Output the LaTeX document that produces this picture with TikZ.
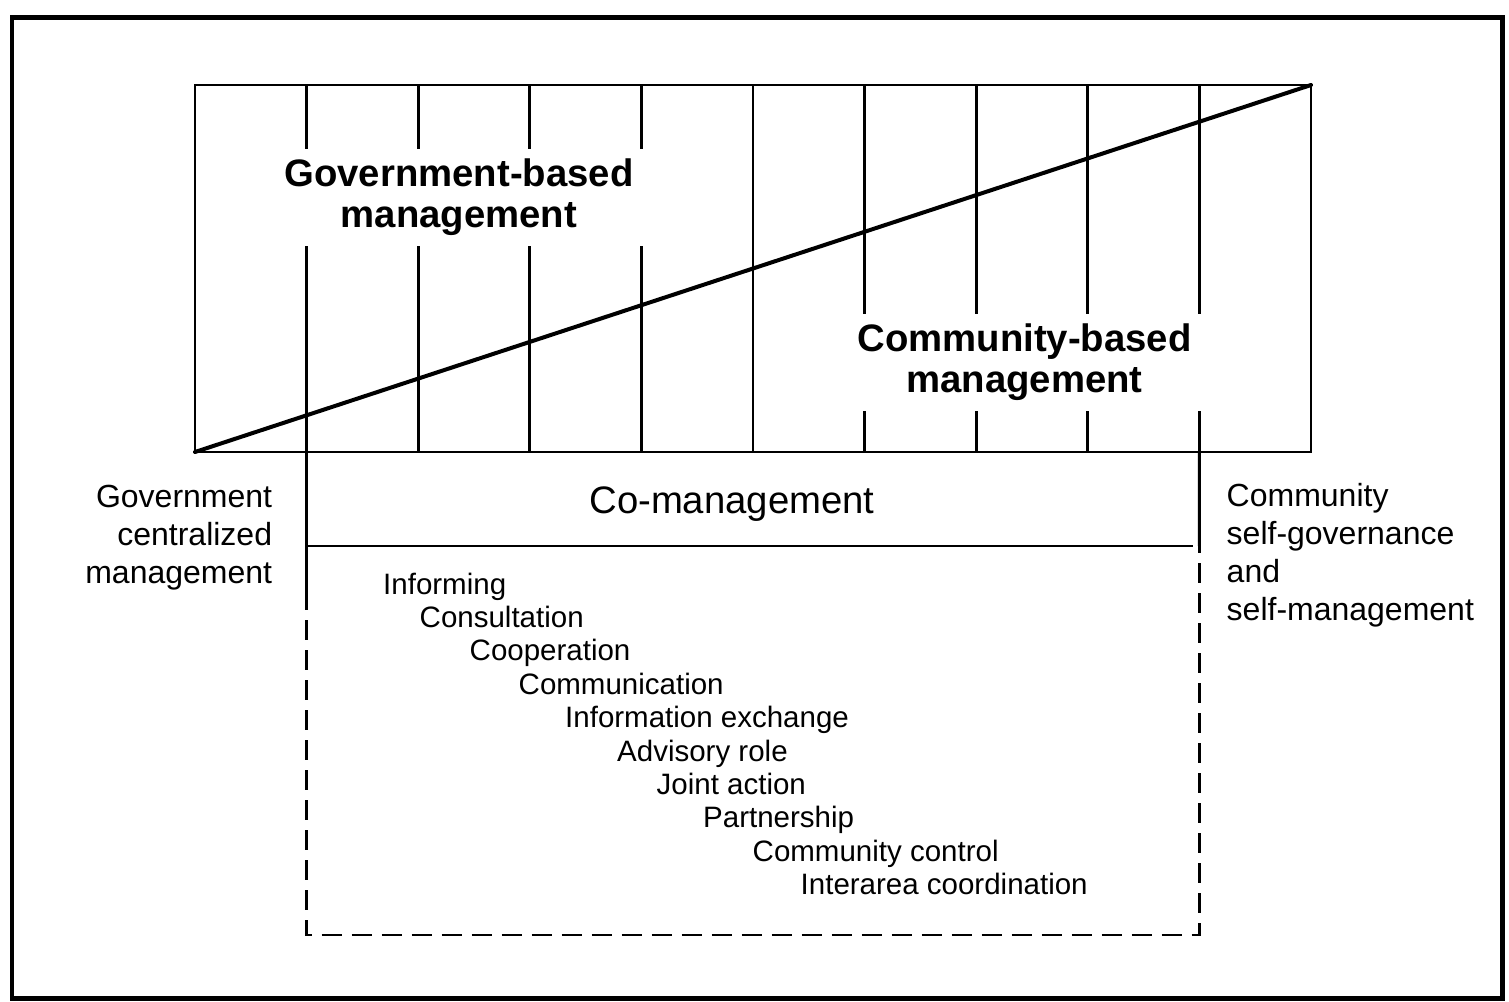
\documentclass[tikz,border=0pt]{standalone}
\usepackage{fontspec}
\setmainfont{Liberation Sans}
\begin{document}
\begin{tikzpicture}[x=1pt,y=-1pt,
  frame/.style={line width=4.5pt},
  rule/.style={line width=2.9pt},
  diag/.style={line width=4pt, line cap=round},
  dashline/.style={line width=2.9pt, dash pattern=on 20pt off 10pt},
  boldlabel/.style={font=\fontsize{38.3}{41}\selectfont\bfseries, align=center, fill=white, inner xsep=14pt, inner ysep=10pt},
  sidelabel/.style={font=\fontsize{32}{37.8}\selectfont, inner sep=0pt},
  colabel/.style={font=\fontsize{38.3}{41}\selectfont, inner sep=0pt, anchor=base},
  item/.style={font=\fontsize{29.5}{33}\selectfont, inner sep=0pt, anchor=base west}]
\useasboundingbox (0,0) rectangle (1509,1001);
% outer frame
\draw[frame] (12,17.5) rectangle (1502.5,998.5);
% main box
\coordinate (TL) at (195,85);
\coordinate (BR) at (1311,452);
\coordinate (BL) at (195,452);
\coordinate (TR) at (1311,85);
\draw[rule] (TL) rectangle (BR);
\foreach \k in {1,...,9} {
  \coordinate (t\k) at ({195+111.6*\k},85);
  \coordinate (b\k) at ({195+111.6*\k},452);
  \draw[rule] (t\k) -- (b\k);
}
\draw[diag] (BL) -- (TR);
% co-management frame
\coordinate (L2) at (306.6,590);
\coordinate (L3) at (306.6,935);
\coordinate (R2) at (1199.4,546);
\coordinate (R3) at (1199.4,935);
\coordinate (H1) at (306.6,546);
\coordinate (H2) at (1193,546);
\draw[rule] (b1) -- (L2);
\draw[rule] (b9) -- (R2);
\draw[rule] (H1) -- (H2);
\draw[dashline] (L2) -- (L3) -- (R3) -- (R2);
% labels
\node[boldlabel] (gov) at (459,197.5) {Government-based\\management};
\node[boldlabel] (com) at (1024.5,362.5) {Community-based\\management};
\node[colabel] (co) at (732,513) {Co-management};
\node[sidelabel, align=right, anchor=north east] (leftlab) at (272.3,485.4) {Government\\centralized\\management};
\node[sidelabel, align=left, anchor=north west] (rightlab) at (1226.5,483.6) {Community\\self-governance\\and\\self-management};
% stages
\node[item] (s1) at (383,594) {Informing};
\node[item] (s2) at (419.5,627.4) {Consultation};
\node[item] (s3) at (469.5,660.8) {Cooperation};
\node[item] (s4) at (518.5,694.2) {Communication};
\node[item] (s5) at (565,727.6) {Information exchange};
\node[item] (s6) at (617,761) {Advisory role};
\node[item] (s7) at (656.5,794.4) {Joint action};
\node[item] (s8) at (703,827.8) {Partnership};
\node[item] (s9) at (752.5,861.2) {Community control};
\node[item] (s10) at (800.5,894.6) {Interarea coordination};
\end{tikzpicture}
\end{document}
